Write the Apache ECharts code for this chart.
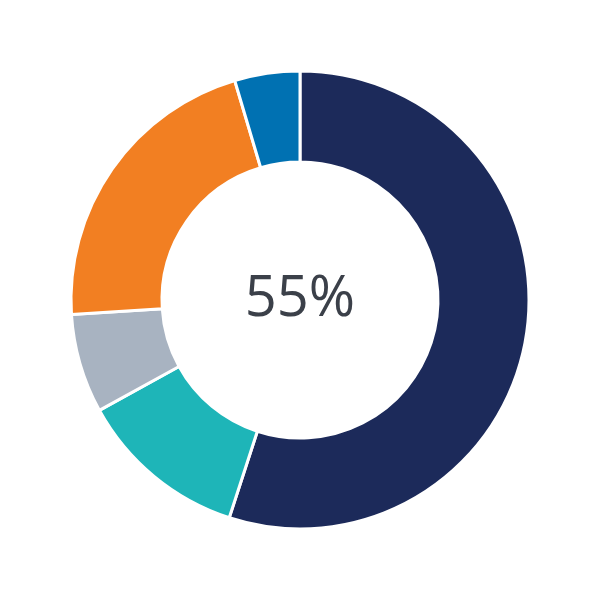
<!DOCTYPE html>
<html>
<head>
<meta charset="utf-8">
<script src="https://cdn.jsdelivr.net/npm/echarts@6/dist/echarts.min.js"></script>
<style>
  html, body { margin: 0; padding: 0; background: #fff; }
  #main { width: 600px; height: 600px; }
</style>
</head>
<body>
<div id="main"></div>
<script>
// slices clockwise from the top
var names = ['A', 'B', 'C', 'D', 'E'];
var values = [55, 12, 7, 21.4, 4.6];
var colors = ['#1c2a5a', '#1eb5b8', '#a8b3c1', '#f27f22', '#0071b2'];
var centerLabel = '55%';

var chart = echarts.init(document.getElementById('main'));
chart.setOption({
  animation: false,
  title: {
    text: centerLabel,
    left: 'center',
    top: 'middle',
    textStyle: {
      fontFamily: '"Open Sans", sans-serif',
      fontSize: 56,
      fontWeight: 'normal',
      color: '#3b4049'
    }
  },
  series: [{
    type: 'pie',
    center: [300, 300],
    radius: [138, 229],
    startAngle: 90,
    clockwise: true,
    label: { show: false },
    labelLine: { show: false },
    itemStyle: {
      borderColor: '#fff',
      borderWidth: 3
    },
    data: names.map(function (n, i) {
      return { name: n, value: values[i], itemStyle: { color: colors[i] } };
    })
  }]
});
</script>
</body>
</html>
